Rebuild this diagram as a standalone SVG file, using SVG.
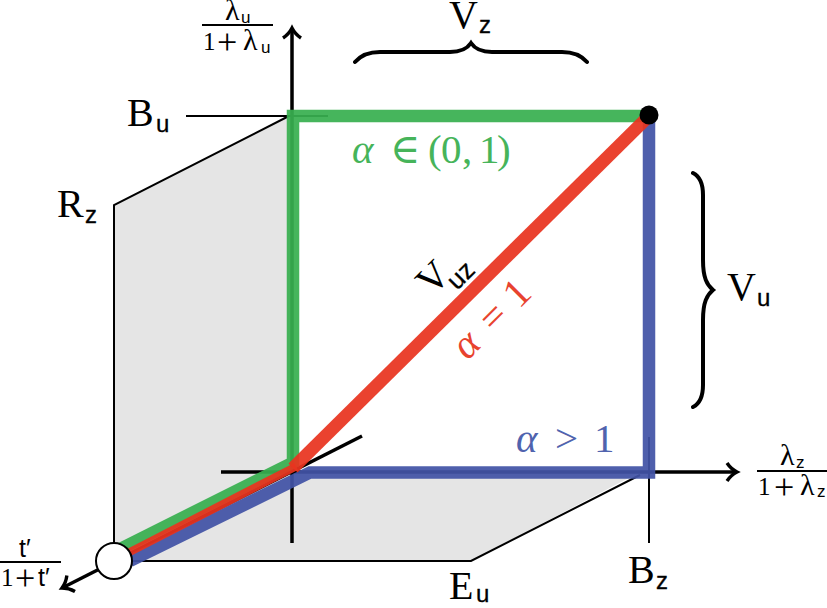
<svg xmlns="http://www.w3.org/2000/svg" width="827" height="608" viewBox="0 0 827 608">
<defs>
<marker id="arr" markerUnits="userSpaceOnUse" markerWidth="24" markerHeight="24" refX="15" refY="12" orient="auto"><path d="M5 3 Q9 9 15 12 Q9 15 5 21" fill="none" stroke="#000" stroke-width="3.400"/></marker>
</defs>
<style>
text{font-family:"Liberation Serif","DejaVu Serif",serif;fill:#000}
.m{font-size:40px}
.s{font-family:"Liberation Sans","DejaVu Sans",sans-serif;font-size:24px;stroke:#000;stroke-width:.3}
.f{font-size:25px}
.l{font-size:30px}
.p{font-size:36px}
.fs{font-family:"Liberation Sans","DejaVu Sans",sans-serif;font-size:17px}
.t{font-family:"Liberation Sans","DejaVu Sans",sans-serif;font-size:25px}
.eq{font-size:41px}
.ax{fill:none;stroke:#000;stroke-width:3.500}
.th{fill:none;stroke:#000;stroke-width:2}
.br{fill:none;stroke:#000;stroke-width:4;stroke-linecap:round}
.band{fill:none;stroke-width:12.500;stroke-linejoin:miter;stroke-opacity:.93}
.rule{stroke:#000;stroke-width:2}
</style>
<g id="plane"><path d="M114 561V205L290 116V472H640L471 561Z" fill="#e5e5e5"/><path class="th" d="M288 116.500L114 205V561H471L640 475"/></g>
<g id="connectors">
<path class="ax" d="M292 543V28" marker-end="url(#arr)"/>
<path class="ax" d="M221 472H737" marker-end="url(#arr)"/>
<path class="ax" d="M362 436L62 588" marker-end="url(#arr)"/>
<path class="th" d="M186 116H328"/>
<path class="th" d="M649 437V543"/>
<path class="band" stroke="#38af50" d="M645 116H293V462.500L120 549"/>
<path class="band" stroke="#4253a6" d="M649 120V472.500H310L130 561"/>
<path class="band" stroke="#e8341f" style="stroke-width:8" d="M296 466.500L124 555"/>
<path class="band" stroke="#e8341f" style="stroke-width:13" d="M649 116L293 468"/>
</g>
<g id="brace-vz"><path class="br" d="M355 62C362 54 370 52 380 52H450C461 52 467 49 471 43C475 49 481 52 492 52H562C572 52 580 54 587 62"/></g>
<g id="brace-vu"><path class="br" d="M693 173C701 177 703 185 703 195V260C703 278 707 285 713 290C707 295 703 302 703 320V385C703 395 701 403 693 407"/></g>
<g id="end-node"><circle cx="649" cy="115" r="9.500" fill="#000"/></g>
<g id="start-node"><circle cx="114" cy="561" r="18" fill="#fff" stroke="#000" stroke-width="2"/></g>
<g id="label-vz"><text class="m" x="449" y="28">V</text><text class="s" x="479" y="33">z</text></g>
<g id="label-bu"><text class="m" x="127" y="126">B</text><text class="s" x="156" y="132">u</text></g>
<g id="label-rz"><text class="m" x="57" y="217">R</text><text class="s" x="85" y="223">z</text></g>
<g id="label-vu"><text class="m" x="727" y="300">V</text><text class="s" x="757" y="306">u</text></g>
<g id="label-bz"><text class="m" x="628" y="583">B</text><text class="s" x="656" y="589">z</text></g>
<g id="label-eu"><text class="m" x="449" y="599">E</text><text class="s" x="476" y="602">u</text></g>
<g id="label-green"><text class="eq" x="352 390 428 441 462 479 497" y="163" style="fill:#46b45a"><tspan font-style="italic">α</tspan>∈(0,1)</text></g>
<g id="label-blue"><text class="eq" x="516 555 594" y="452" style="fill:#5063ae"><tspan font-style="italic">α</tspan>&gt;1</text></g>
<g id="label-red"><text class="eq" transform="translate(467.500 361) rotate(-45)" x="0 38 73" style="fill:#e8432e"><tspan font-style="italic">α</tspan>=1</text></g>
<g id="label-vuz"><text class="m" transform="translate(432 297) rotate(-45)">V</text><text class="s" transform="translate(457 291) rotate(-45)" style="font-size:26px">uz</text></g>
<g id="frac-u"><text class="l" x="225" y="20">λ</text><text class="fs" x="241" y="23">u</text><path class="rule" d="M202 25H273"/><text class="f" x="203" y="50">1</text><text class="p" x="217" y="54">+</text><text class="l" x="243" y="50">λ</text><text class="fs" x="261" y="53">u</text></g>
<g id="frac-z"><text class="l" x="780" y="465">λ</text><text class="fs" x="796" y="468">z</text><path class="rule" d="M757 471H827"/><text class="f" x="758" y="495">1</text><text class="p" x="774" y="499">+</text><text class="l" x="800" y="495">λ</text><text class="fs" x="817" y="497">z</text></g>
<g id="frac-t"><text class="t" x="19" y="557">t′</text><path class="rule" d="M0 562H61"/><text class="f" x="1" y="586">1</text><text class="p" x="15" y="590">+</text><text class="t" x="38" y="586">t′</text></g>
</svg>
